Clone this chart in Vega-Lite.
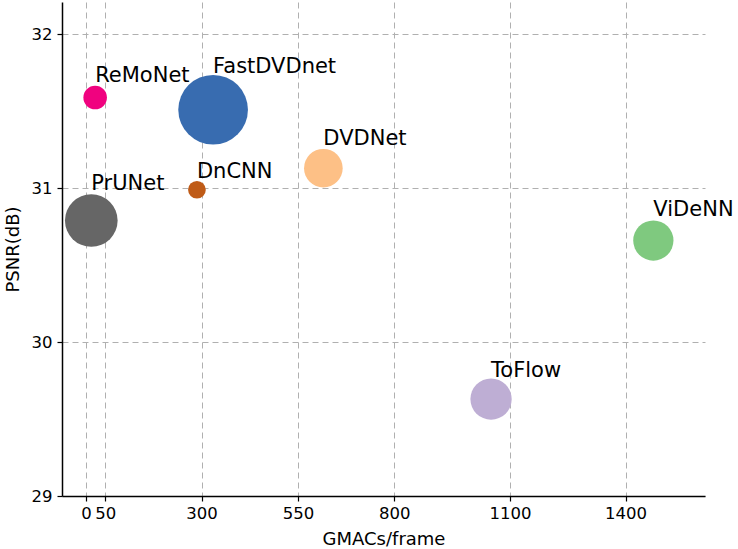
{
  "$schema": "https://vega.github.io/schema/vega-lite/v6.json",
  "autosize": "none",
  "width": 643,
  "height": 494,
  "padding": {"left": 62, "top": 2, "right": 33, "bottom": 53},
  "background": "white",
  "config": {
    "view": {"stroke": null},
    "font": "DejaVu Sans",
    "axis": {
      "labelFont": "DejaVu Sans",
      "titleFont": "DejaVu Sans",
      "labelFontSize": 16.5,
      "titleFontSize": 18,
      "titleFontWeight": "normal",
      "labelColor": "black",
      "titleColor": "black",
      "domainColor": "black",
      "domainWidth": 1.5,
      "tickColor": "black",
      "tickWidth": 1.2,
      "tickSize": 5,
      "gridColor": "#b0b0b0",
      "gridDash": [6, 4],
      "gridWidth": 1,
      "zindex": 1
    }
  },
  "data": {
    "values": [
      {"model": "ReMoNet", "gmacs": 24, "psnr": 31.589, "label_psnr": 31.688, "s": 288},
      {"model": "PrUNet", "gmacs": 14, "psnr": 30.79, "label_psnr": 30.987, "s": 1437},
      {"model": "FastDVDnet", "gmacs": 330, "psnr": 31.51, "label_psnr": 31.749, "s": 2515},
      {"model": "DnCNN", "gmacs": 288, "psnr": 30.99, "label_psnr": 31.067, "s": 163},
      {"model": "DVDNet", "gmacs": 616, "psnr": 31.13, "label_psnr": 31.279, "s": 774},
      {"model": "ViDeNN", "gmacs": 1472, "psnr": 30.66, "label_psnr": 30.818, "s": 839},
      {"model": "ToFlow", "gmacs": 1051, "psnr": 29.63, "label_psnr": 29.775, "s": 884}
    ]
  },
  "encoding": {
    "x": {
      "field": "gmacs",
      "type": "quantitative",
      "title": "GMACs/frame",
      "scale": {"domain": [-62, 1606], "nice": false, "zero": false},
      "axis": {"values": [0, 50, 300, 550, 800, 1100, 1400], "format": "d", "labelPadding": 4, "titlePadding": 9, "labelFlush": false, "labelOverlap": false}
    }
  },
  "layer": [
    {
      "mark": {"type": "circle", "opacity": 1, "strokeWidth": 0},
      "encoding": {
        "y": {
          "field": "psnr",
          "type": "quantitative",
          "title": "PSNR(dB)",
          "scale": {"domain": [29, 32.21], "nice": false, "zero": false},
          "axis": {"values": [29, 30, 31, 32], "format": "d", "labelPadding": 5, "titlePadding": 9, "labelFlush": false}
        },
        "size": {
          "field": "s",
          "type": "quantitative",
          "scale": {"type": "linear", "domain": [0, 2500], "range": [0, 4823], "zero": true},
          "legend": null
        },
        "color": {
          "field": "model",
          "type": "nominal",
          "scale": {
            "domain": ["PrUNet", "ReMoNet", "FastDVDnet", "DnCNN", "DVDNet", "ViDeNN", "ToFlow"],
            "range": ["#666666", "#f0027f", "#386cb0", "#bf5b17", "#fdc086", "#7fc97f", "#beaed4"]
          },
          "legend": null
        }
      }
    },
    {
      "mark": {"type": "text", "align": "left", "baseline": "alphabetic", "fontSize": 21, "font": "DejaVu Sans", "color": "black"},
      "encoding": {
        "y": {"field": "label_psnr", "type": "quantitative"},
        "text": {"field": "model"}
      }
    }
  ]
}
